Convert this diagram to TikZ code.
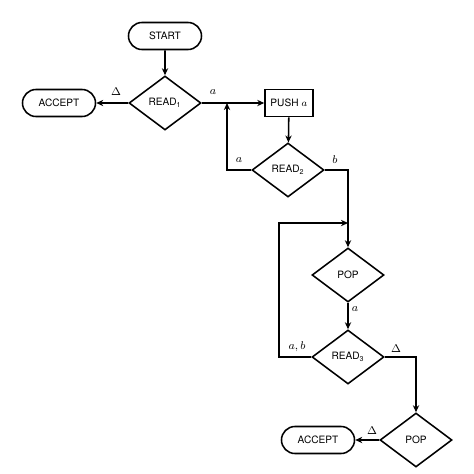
\documentclass[tikz,border=0pt]{standalone}
\usepackage{fontspec}
\setsansfont{TeX Gyre Heros}
\usetikzlibrary{shapes.geometric,shapes.misc,arrows.meta}
\begin{document}
\begin{tikzpicture}[>={Stealth[length=5pt,width=4.5pt]},x=0.025cm,y=-0.025cm,line width=1.1pt,
    every node/.style={font=\sffamily\fontsize{7.2}{8}\selectfont},
    term/.style={draw,rounded rectangle,minimum width=1.825cm,minimum height=0.675cm,inner sep=0pt},
    test/.style={draw,diamond,aspect=1.333,minimum width=1.8cm,minimum height=1.35cm,inner sep=0pt},
    act/.style={draw,rectangle,minimum width=1.2cm,minimum height=0.675cm,inner sep=0pt},
    lbl/.style={font=\fontsize{8}{9}\selectfont}]
    \useasboundingbox(0,0)rectangle(474,474);
    \node[term](start)at(165,36){START};
    \node[test](read1)at(165,103){READ\textsubscript{1}};
    \node[term](acc1)at(59,103){ACCEPT};
    \node[act](push)at(289,103){PUSH $a$};
    \node[test](read2)at(288,170){READ\textsubscript{2}};
    \node[test](pop1)at(348,275){POP};
    \node[test](read3)at(348,357){READ\textsubscript{3}};
    \node[test](pop2)at(416,440){POP};
    \node[term](acc2)at(318,440){ACCEPT};
    \coordinate(j1)at(227,103);
    \coordinate(j2)at(348,223);
    \coordinate(c2)at(279,223);
    % labels on the branches
    \node[lbl](d1)at(116,92){$\Delta$};
    \node[lbl](a1)at(213,92){$a$};
    \node[lbl](a2)at(239,160){$a$};
    \node[lbl](b2)at(335,160){$b$};
    \node[lbl](a3)at(355,309){$a$};
    \node[lbl](ab3)at(297,347){$a,b$};
    \node[lbl](d3)at(396,349){$\Delta$};
    \node[lbl](d4)at(372,431){$\Delta$};
    % connectors
    \draw[->](start)--(read1);
    \draw[->](read1)--(acc1);
    \draw[->](read1.east)--(push.west);
    \draw[->](push)--(read2);
    \draw[->](read2.west)-|(j1);
    \draw[->](read2.east)-|(pop1.north);
    \draw[->](pop1)--(read3);
    \draw[->](read3.west)-|(c2)--(j2);
    \draw[->](read3.east)-|(pop2.north);
    \draw[->](pop2)--(acc2);
\end{tikzpicture}
\end{document}
